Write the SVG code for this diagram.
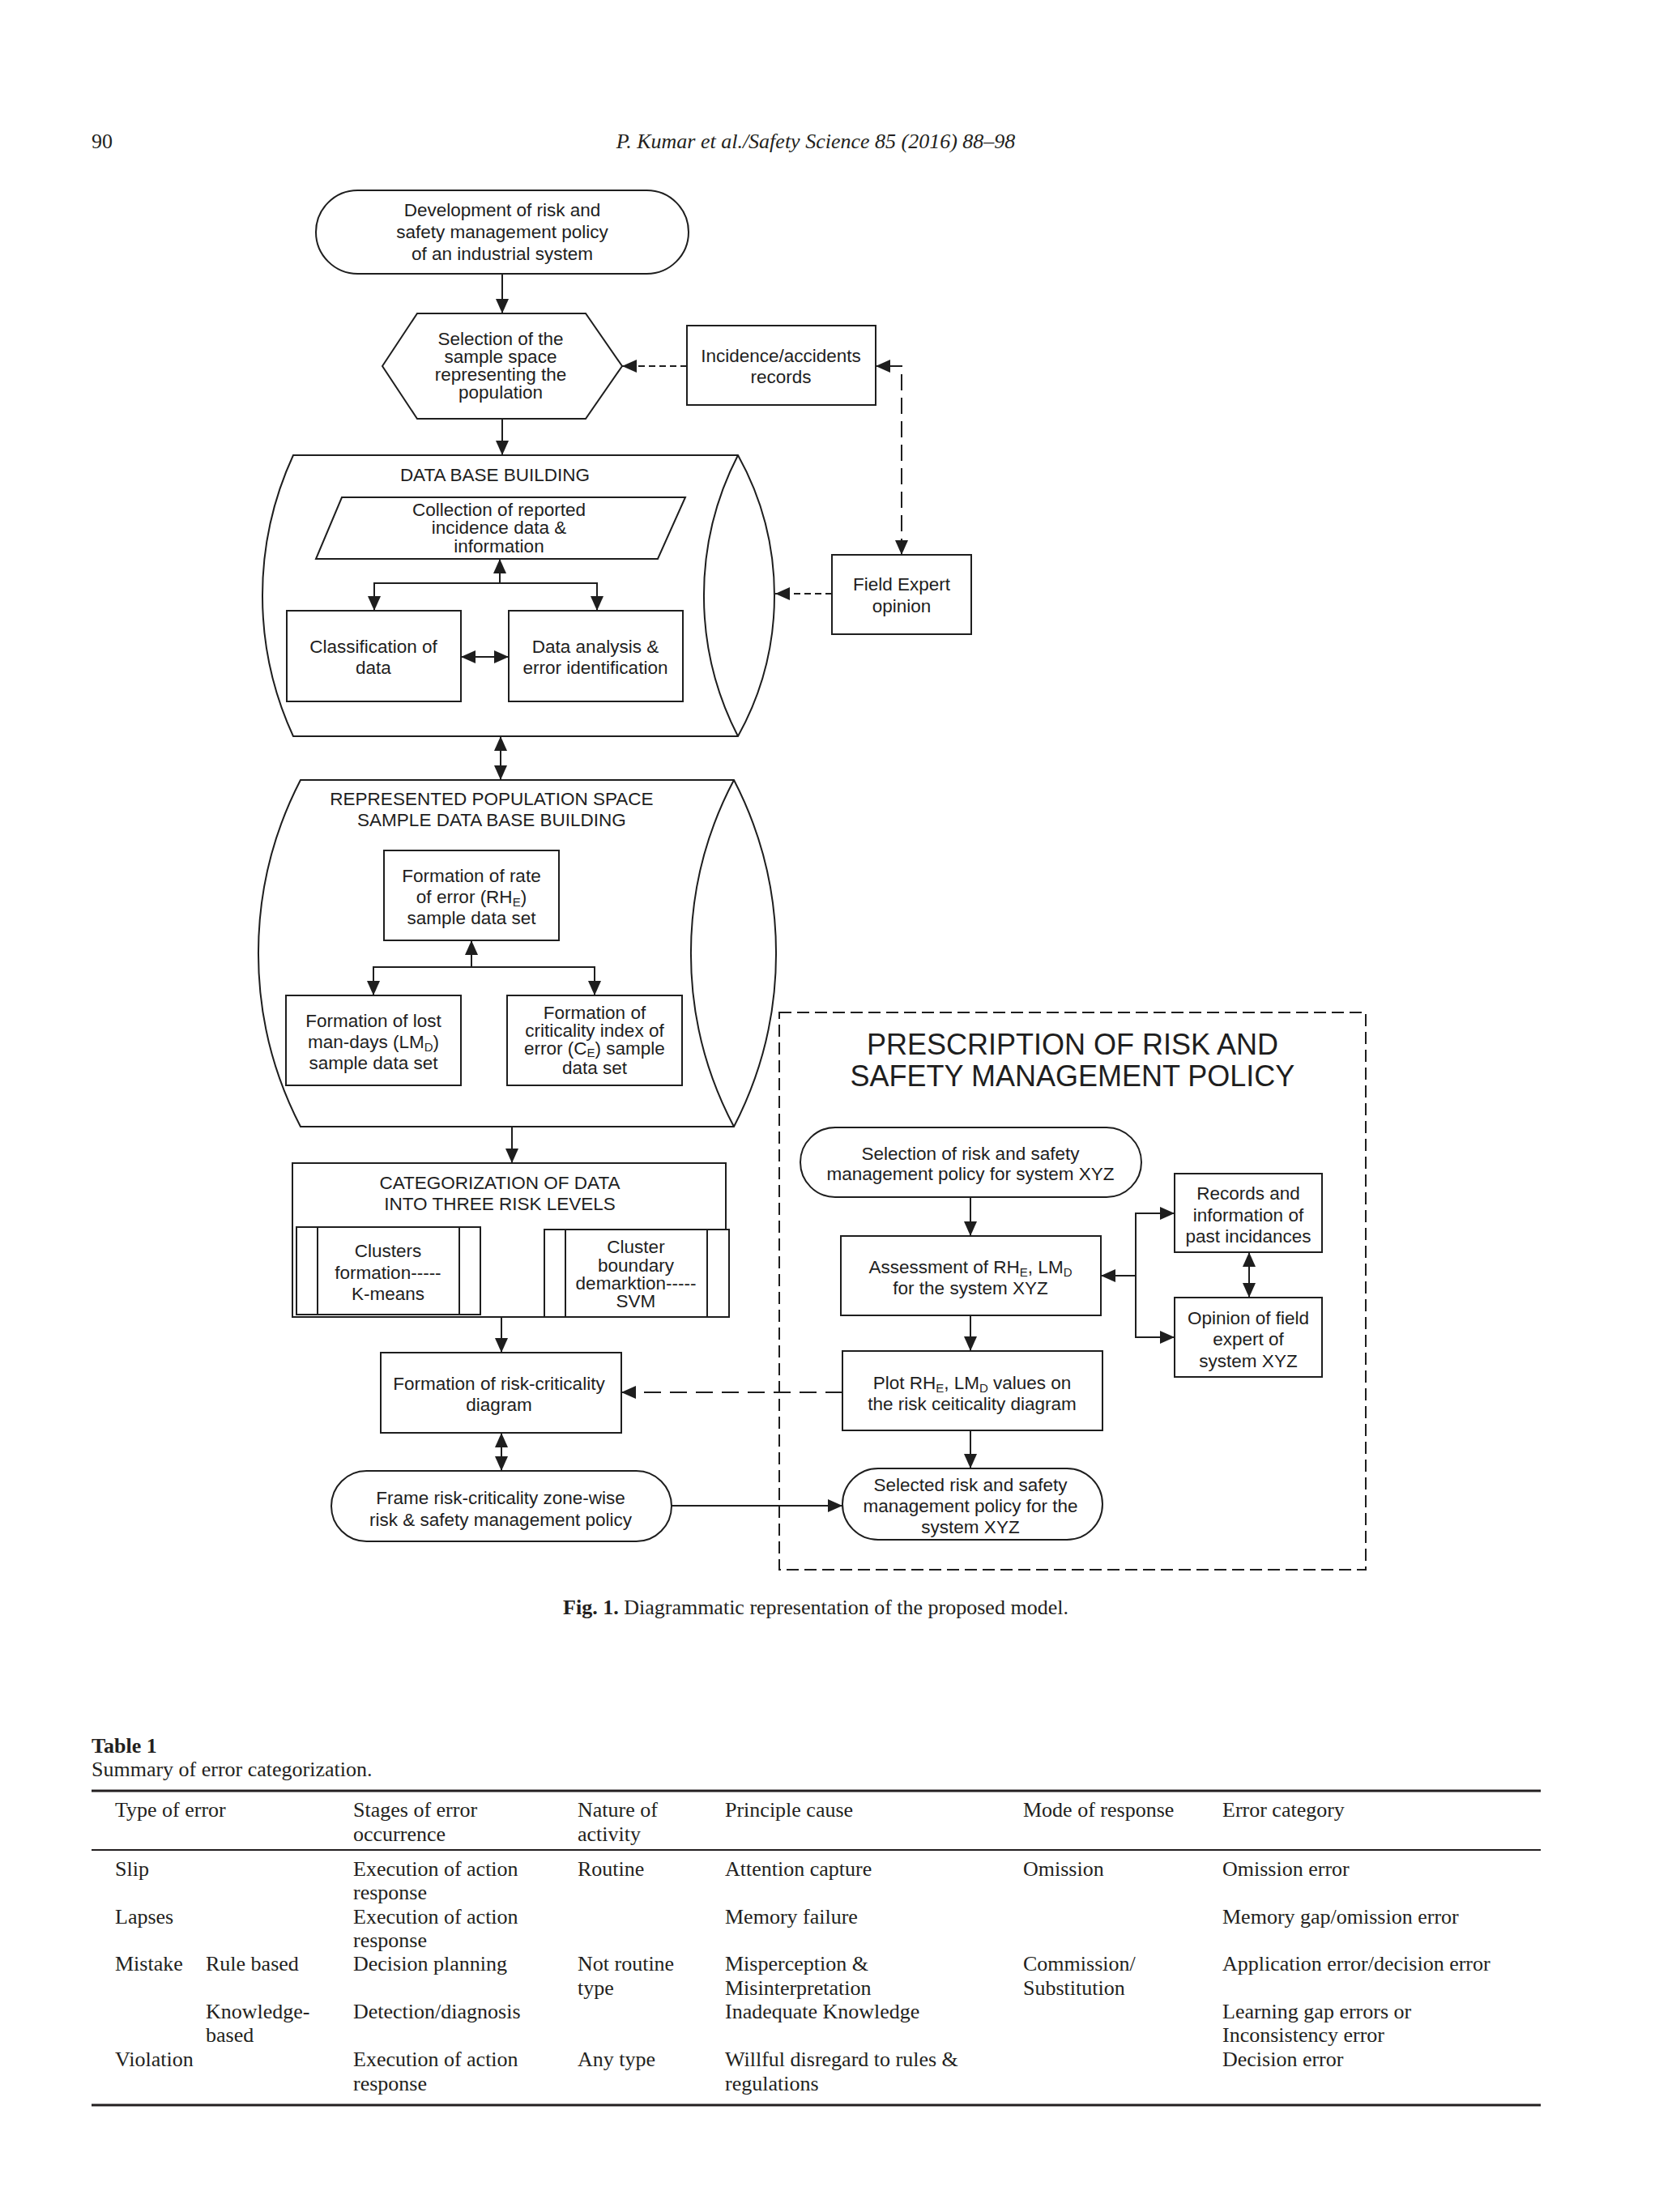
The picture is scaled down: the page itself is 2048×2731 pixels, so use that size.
<svg xmlns="http://www.w3.org/2000/svg" width="2048" height="2731" viewBox="0 0 2048 2731">
<defs>
<style>
.n{fill:#fff;stroke:#1e1e1e;stroke-width:2}
.t{font-family:"Liberation Sans",Arial,sans-serif;font-size:22.5px;fill:#1e1e1e;text-anchor:middle}
.h{font-size:36px}
.s{font-size:15px}
.c{fill:none;stroke:#1e1e1e;stroke-width:2}
.a{marker-end:url(#ah)}
.b{marker-start:url(#ah);marker-end:url(#ah)}
.d1{stroke-dasharray:8 5}
.d2{stroke-dasharray:20 9}
.d3{stroke-dasharray:21 11}
.d4{stroke-dasharray:15 7}
.p{font-family:"Liberation Serif","Times New Roman",serif;font-size:26px;fill:#231f20}
.r{stroke:#231f20;fill:none}
</style>
<marker id="ah" markerUnits="userSpaceOnUse" markerWidth="18" markerHeight="16" refX="18" refY="8" orient="auto-start-reverse" viewBox="0 0 18 16"><path d="M0,0 L18,8 L0,16 z" fill="#1e1e1e" stroke="none"/></marker>
</defs>
<rect x="0" y="0" width="2048" height="2731" fill="#fff"/>

<g id="page-header">
<text class="p" x="113" y="183">90</text>
<text class="p" x="1007" y="183" text-anchor="middle" font-style="italic">P. Kumar et al./Safety Science 85 (2016) 88–98</text>
</g>

<g id="prescription-frame">
<rect x="962" y="1250" width="724" height="688" class="c d4"/>
<text class="t h" x="1324" y="1302">PRESCRIPTION OF RISK AND</text>
<text class="t h" x="1324" y="1341">SAFETY MANAGEMENT POLICY</text>
</g>

<g id="n-development">
<rect class="n" x="390" y="235" width="460" height="103" rx="51.5"/>
<text class="t" x="620" y="267">Development of risk and</text>
<text class="t" x="620" y="294">safety management policy</text>
<text class="t" x="620" y="321">of an industrial system</text>
</g>

<g id="n-selection-sample">
<polygon class="n" points="472,452 515,387 723,387 768,452 723,517 515,517"/>
<text class="t" x="618" y="426">Selection of the</text>
<text class="t" x="618" y="448">sample space</text>
<text class="t" x="618" y="470">representing the</text>
<text class="t" x="618" y="492">population</text>
</g>

<g id="n-incidence">
<rect class="n" x="848" y="402" width="233" height="98"/>
<text class="t" x="964" y="447">Incidence/accidents</text>
<text class="t" x="964" y="473">records</text>
</g>

<g id="n-field-expert">
<rect class="n" x="1027" y="685" width="172" height="98"/>
<text class="t" x="1113" y="729">Field Expert</text>
<text class="t" x="1113" y="756">opinion</text>
</g>

<g id="n-database">
<path class="n" d="M362,562 L911,562 A357,357 0 0 1 911,909 L362,909 A415,415 0 0 1 362,562 Z"/>
<path class="c" d="M911,562 A379,379 0 0 0 911,909"/>
<text class="t" x="611" y="594">DATA BASE BUILDING</text>
</g>

<g id="n-collection">
<polygon class="n" points="422,614 846,614 812,690 390,690"/>
<text class="t" x="616" y="637">Collection of reported</text>
<text class="t" x="616" y="659">incidence data &amp;</text>
<text class="t" x="616" y="682">information</text>
</g>

<g id="n-classification">
<rect class="n" x="354" y="754" width="215" height="112"/>
<text class="t" x="461" y="806">Classification of</text>
<text class="t" x="461" y="832">data</text>
</g>

<g id="n-analysis">
<rect class="n" x="628" y="754" width="215" height="112"/>
<text class="t" x="735" y="806">Data analysis &amp;</text>
<text class="t" x="735" y="832">error identification</text>
</g>

<g id="n-population">
<path class="n" d="M371,963 L906,963 A466,466 0 0 1 906,1391 L371,1391 A466,466 0 0 1 371,963 Z"/>
<path class="c" d="M906,963 A458,458 0 0 0 906,1391"/>
<text class="t" x="607" y="994">REPRESENTED POPULATION SPACE</text>
<text class="t" x="607" y="1020">SAMPLE DATA BASE BUILDING</text>
</g>

<g id="n-rate">
<rect class="n" x="474" y="1050" width="216" height="111"/>
<text class="t" x="582" y="1089">Formation of rate</text>
<text class="t" x="582" y="1115">of error (RH<tspan class="s" dy="4">E</tspan><tspan dy="-4">)</tspan></text>
<text class="t" x="582" y="1141">sample data set</text>
</g>

<g id="n-lost">
<rect class="n" x="353" y="1229" width="216" height="111"/>
<text class="t" x="461" y="1268">Formation of lost</text>
<text class="t" x="461" y="1294">man-days (LM<tspan class="s" dy="4">D</tspan><tspan dy="-4">)</tspan></text>
<text class="t" x="461" y="1320">sample data set</text>
</g>

<g id="n-criticality">
<rect class="n" x="626" y="1229" width="216" height="111"/>
<text class="t" x="734" y="1258">Formation of</text>
<text class="t" x="734" y="1280">criticality index of</text>
<text class="t" x="734" y="1302">error (C<tspan class="s" dy="3">E</tspan><tspan dy="-3">) sample</tspan></text>
<text class="t" x="734" y="1326">data set</text>
</g>

<g id="n-categorization">
<rect class="n" x="361" y="1436" width="535" height="190"/>
<text class="t" x="617" y="1468">CATEGORIZATION OF DATA</text>
<text class="t" x="617" y="1494">INTO THREE RISK LEVELS</text>
</g>

<g id="n-clusters">
<rect class="n" x="366" y="1515" width="227" height="108"/>
<line class="c" x1="392" y1="1515" x2="392" y2="1623"/>
<line class="c" x1="567" y1="1515" x2="567" y2="1623"/>
<text class="t" x="479" y="1552">Clusters</text>
<text class="t" x="479" y="1579">formation-----</text>
<text class="t" x="479" y="1605">K-means</text>
</g>

<g id="n-boundary">
<rect class="n" x="672" y="1518" width="228" height="108"/>
<line class="c" x1="698" y1="1518" x2="698" y2="1626"/>
<line class="c" x1="873" y1="1518" x2="873" y2="1626"/>
<text class="t" x="785" y="1547">Cluster</text>
<text class="t" x="785" y="1570">boundary</text>
<text class="t" x="785" y="1592">demarktion-----</text>
<text class="t" x="785" y="1614">SVM</text>
</g>

<g id="n-risk-diagram">
<rect class="n" x="470" y="1670" width="297" height="99"/>
<text class="t" x="616" y="1716">Formation of risk-criticality</text>
<text class="t" x="616" y="1742">diagram</text>
</g>

<g id="n-frame">
<rect class="n" x="409" y="1816" width="420" height="87" rx="43.5"/>
<text class="t" x="618" y="1857">Frame risk-criticality zone-wise</text>
<text class="t" x="618" y="1884">risk &amp; safety management policy</text>
</g>

<g id="n-selection-policy">
<rect class="n" x="988" y="1392" width="421" height="86" rx="43"/>
<text class="t" x="1198" y="1432">Selection of risk and safety</text>
<text class="t" x="1198" y="1457">management policy for system XYZ</text>
</g>

<g id="n-assessment">
<rect class="n" x="1038" y="1526" width="321" height="98"/>
<text class="t" x="1198" y="1572">Assessment of RH<tspan class="s" dy="4">E</tspan><tspan dy="-4">, LM</tspan><tspan class="s" dy="4">D</tspan></text>
<text class="t" x="1198" y="1598">for the system XYZ</text>
</g>

<g id="n-plot">
<rect class="n" x="1040" y="1668" width="321" height="98"/>
<text class="t" x="1200" y="1715">Plot RH<tspan class="s" dy="4">E</tspan><tspan dy="-4">, LM</tspan><tspan class="s" dy="4">D</tspan><tspan dy="-4"> values on</tspan></text>
<text class="t" x="1200" y="1741">the risk ceiticality diagram</text>
</g>

<g id="n-selected">
<rect class="n" x="1040" y="1813" width="321" height="88" rx="44"/>
<text class="t" x="1198" y="1841">Selected risk and safety</text>
<text class="t" x="1198" y="1867">management policy for the</text>
<text class="t" x="1198" y="1893">system XYZ</text>
</g>

<g id="n-records">
<rect class="n" x="1450" y="1449" width="182" height="97"/>
<text class="t" x="1541" y="1481">Records and</text>
<text class="t" x="1541" y="1508">information of</text>
<text class="t" x="1541" y="1534">past incidances</text>
</g>

<g id="n-opinion">
<rect class="n" x="1450" y="1602" width="182" height="98"/>
<text class="t" x="1541" y="1635">Opinion of field</text>
<text class="t" x="1541" y="1661">expert of</text>
<text class="t" x="1541" y="1688">system XYZ</text>
</g>

<g id="connectors">
<path class="c a" d="M620,338 V387"/>
<path class="c a" d="M620,517 V562"/>
<path class="c a d1" d="M848,452 H768"/>
<path class="c b d2" d="M1113,685 V452 H1081"/>
<path class="c a d1" d="M1027,733 H957"/>
<path class="c a" d="M617,720 V690"/>
<path class="c a" d="M617,720 H462 V754"/>
<path class="c a" d="M617,720 H737 V754"/>
<path class="c b" d="M569,811 H628"/>
<path class="c b" d="M618,909 V963"/>
<path class="c a" d="M582,1194 V1161"/>
<path class="c a" d="M582,1194 H461 V1229"/>
<path class="c a" d="M582,1194 H734 V1229"/>
<path class="c a" d="M632,1391 V1436"/>
<path class="c a" d="M619,1626 V1670"/>
<path class="c a d3" d="M1040,1719 H767"/>
<path class="c b" d="M619,1769 V1816"/>
<path class="c a" d="M829,1859 H1040"/>
<path class="c a" d="M1198,1478 V1526"/>
<path class="c a" d="M1198,1624 V1668"/>
<path class="c a" d="M1198,1766 V1813"/>
<path class="c a" d="M1402,1575 H1359"/>
<path class="c a" d="M1402,1575 V1498 H1450"/>
<path class="c a" d="M1402,1575 V1651 H1450"/>
<path class="c b" d="M1542,1546 V1602"/>
</g>

<g id="caption">
<text class="p" x="1007" y="1993" text-anchor="middle"><tspan font-weight="bold">Fig. 1.</tspan> Diagrammatic representation of the proposed model.</text>
</g>

<g id="table">
<text class="p" x="113" y="2164" font-weight="bold">Table 1</text>
<text class="p" x="113" y="2193">Summary of error categorization.</text>
<line class="r" x1="113" y1="2211" x2="1902" y2="2211" stroke-width="3"/>
<line class="r" x1="113" y1="2284" x2="1902" y2="2284" stroke-width="2"/>
<line class="r" x1="113" y1="2599" x2="1902" y2="2599" stroke-width="3"/>
<text class="p" x="142" y="2243">Type of error</text>
<text class="p" x="436" y="2243">Stages of error</text>
<text class="p" x="436" y="2273">occurrence</text>
<text class="p" x="713" y="2243">Nature of</text>
<text class="p" x="713" y="2273">activity</text>
<text class="p" x="895" y="2243">Principle cause</text>
<text class="p" x="1263" y="2243">Mode of response</text>
<text class="p" x="1509" y="2243">Error category</text>

<text class="p" x="142" y="2316">Slip</text>
<text class="p" x="436" y="2316">Execution of action</text>
<text class="p" x="436" y="2345">response</text>
<text class="p" x="713" y="2316">Routine</text>
<text class="p" x="895" y="2316">Attention capture</text>
<text class="p" x="1263" y="2316">Omission</text>
<text class="p" x="1509" y="2316">Omission error</text>

<text class="p" x="142" y="2375">Lapses</text>
<text class="p" x="436" y="2375">Execution of action</text>
<text class="p" x="436" y="2404">response</text>
<text class="p" x="895" y="2375">Memory failure</text>
<text class="p" x="1509" y="2375">Memory gap/omission error</text>

<text class="p" x="142" y="2433">Mistake</text>
<text class="p" x="254" y="2433">Rule based</text>
<text class="p" x="436" y="2433">Decision planning</text>
<text class="p" x="713" y="2433">Not routine</text>
<text class="p" x="713" y="2463">type</text>
<text class="p" x="895" y="2433">Misperception &amp;</text>
<text class="p" x="895" y="2463">Misinterpretation</text>
<text class="p" x="1263" y="2433">Commission/</text>
<text class="p" x="1263" y="2463">Substitution</text>
<text class="p" x="1509" y="2433">Application error/decision error</text>

<text class="p" x="254" y="2492">Knowledge-</text>
<text class="p" x="254" y="2521">based</text>
<text class="p" x="436" y="2492">Detection/diagnosis</text>
<text class="p" x="895" y="2492">Inadequate Knowledge</text>
<text class="p" x="1509" y="2492">Learning gap errors or</text>
<text class="p" x="1509" y="2521">Inconsistency error</text>

<text class="p" x="142" y="2551">Violation</text>
<text class="p" x="436" y="2551">Execution of action</text>
<text class="p" x="436" y="2581">response</text>
<text class="p" x="713" y="2551">Any type</text>
<text class="p" x="895" y="2551">Willful disregard to rules &amp;</text>
<text class="p" x="895" y="2581">regulations</text>
<text class="p" x="1509" y="2551">Decision error</text>
</g>
</svg>
